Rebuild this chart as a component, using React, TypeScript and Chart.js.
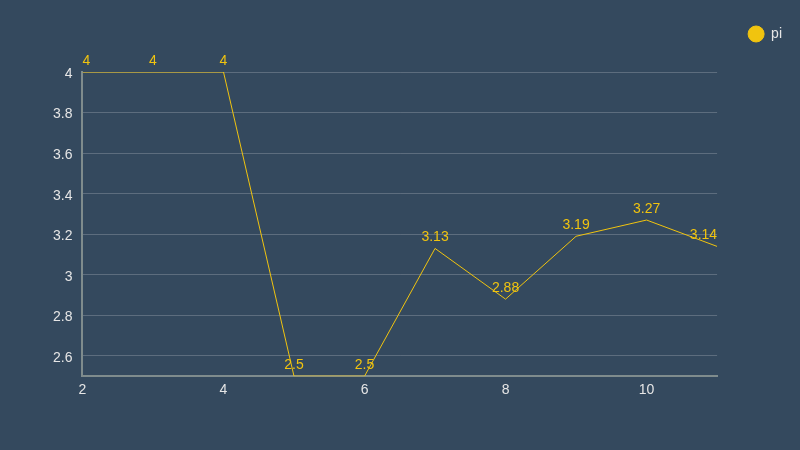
import React, { useEffect, useRef } from "react";
import { Chart, registerables } from "chart.js";

Chart.register(...registerables);

const xValues = [2, 3, 4, 5, 6, 7, 8, 9, 10, 11];
const piValues = [4, 4, 4, 2.5, 2.5, 3.13, 2.88, 3.19, 3.27, 3.14];
const xTicks = [2, 4, 6, 8, 10];
const yTicks = [2.6, 2.8, 3, 3.2, 3.4, 3.6, 3.8, 4];

const bg = "#34495e";
const yellow = "#f1c40f";
const textColor = "#e6e6e6";

// draws the value above every point, kept inside the chart area
const pointLabels = {
  id: "pointLabels",
  afterDatasetsDraw(chart: any) {
    const { ctx, chartArea } = chart;
    const meta = chart.getDatasetMeta(0);
    const data = chart.data.datasets[0].data as any[];
    ctx.save();
    ctx.font = "14px 'Liberation Sans', Arial, sans-serif";
    ctx.fillStyle = yellow;
    ctx.textBaseline = "middle";
    ctx.textAlign = "center";
    meta.data.forEach((pt: any, i: number) => {
      const text = String(data[i].y);
      const w = ctx.measureText(text).width;
      let x = pt.x;
      if (x - w / 2 < chartArea.left) x = chartArea.left + w / 2;
      if (x + w / 2 > chartArea.right) x = chartArea.right - w / 2;
      ctx.fillText(text, x, pt.y - 11);
    });
    ctx.restore();
  },
};

const App: React.FC = () => {
  const chartRef = useRef<HTMLCanvasElement | null>(null);

  useEffect(() => {
    document.body.style.margin = "0";
    document.body.style.background = bg;
    let chartInstance: Chart | null = null;
    if (chartRef.current) {
      const ctx = chartRef.current.getContext("2d");
      if (ctx) {
        chartInstance = new Chart(ctx, {
          type: "line",
          data: {
            datasets: [
              {
                label: "pi",
                data: xValues.map((x, i) => ({ x, y: piValues[i] })),
                borderColor: yellow,
                backgroundColor: yellow,
                borderWidth: 1,
                pointRadius: 0,
                tension: 0,
                fill: false,
              },
            ],
          },
          options: {
            animation: false,
            responsive: false,
            layout: { padding: { left: 43, right: 8, top: 17, bottom: 45 } },
            font: { family: "'Liberation Sans', Arial, sans-serif", size: 14 },
            plugins: {
              tooltip: { enabled: false },
              legend: {
                position: "right",
                align: "start",
                labels: {
                  color: textColor,
                  usePointStyle: true,
                  pointStyle: "circle",
                  pointStyleWidth: 16,
                  boxHeight: 11.3,
                  padding: 10,
                  font: { size: 14 },
                },
              },
            },
            scales: {
              x: {
                type: "linear",
                min: 2,
                max: 11,
                afterBuildTicks: (s: any) => {
                  s.ticks = xTicks.map((v) => ({ value: v }));
                },
                grid: { display: false, drawTicks: false },
                border: { display: true, color: "#7f8c8d", width: 2 },
                ticks: {
                  color: textColor,
                  padding: 6,
                  font: { size: 14 },
                  callback: (v: any) => String(v),
                },
              },
              x2: {
                type: "linear",
                position: "top",
                display: true,
                grid: { display: false, drawTicks: false },
                border: { display: false },
                ticks: { display: false },
                afterFit: (s: any) => {
                  s.height = 55;
                },
              },
              y: {
                min: 2.5,
                max: 4,
                afterBuildTicks: (s: any) => {
                  s.ticks = yTicks.map((v) => ({ value: v }));
                },
                grid: { color: "#5d6d7e", drawTicks: false },
                border: { display: true, color: "#7f8c8d", width: 2 },
                ticks: {
                  color: textColor,
                  padding: 10,
                  labelOffset: 2,
                  font: { size: 14 },
                  callback: (v: any) => String(Number(v)),
                },
              },
              y2: {
                type: "linear",
                position: "right",
                display: true,
                grid: { display: false, drawTicks: false },
                border: { display: false },
                ticks: { display: false },
                afterFit: (s: any) => {
                  s.width = 21;
                },
              },
            },
          },
          plugins: [pointLabels],
        });
      }
    }
    return () => {
      if (chartInstance) chartInstance.destroy();
    };
  }, []);

  return (
    <div style={{ width: 800, height: 450, background: bg }}>
      <canvas ref={chartRef} width={800} height={450} />
    </div>
  );
};

export default App;
